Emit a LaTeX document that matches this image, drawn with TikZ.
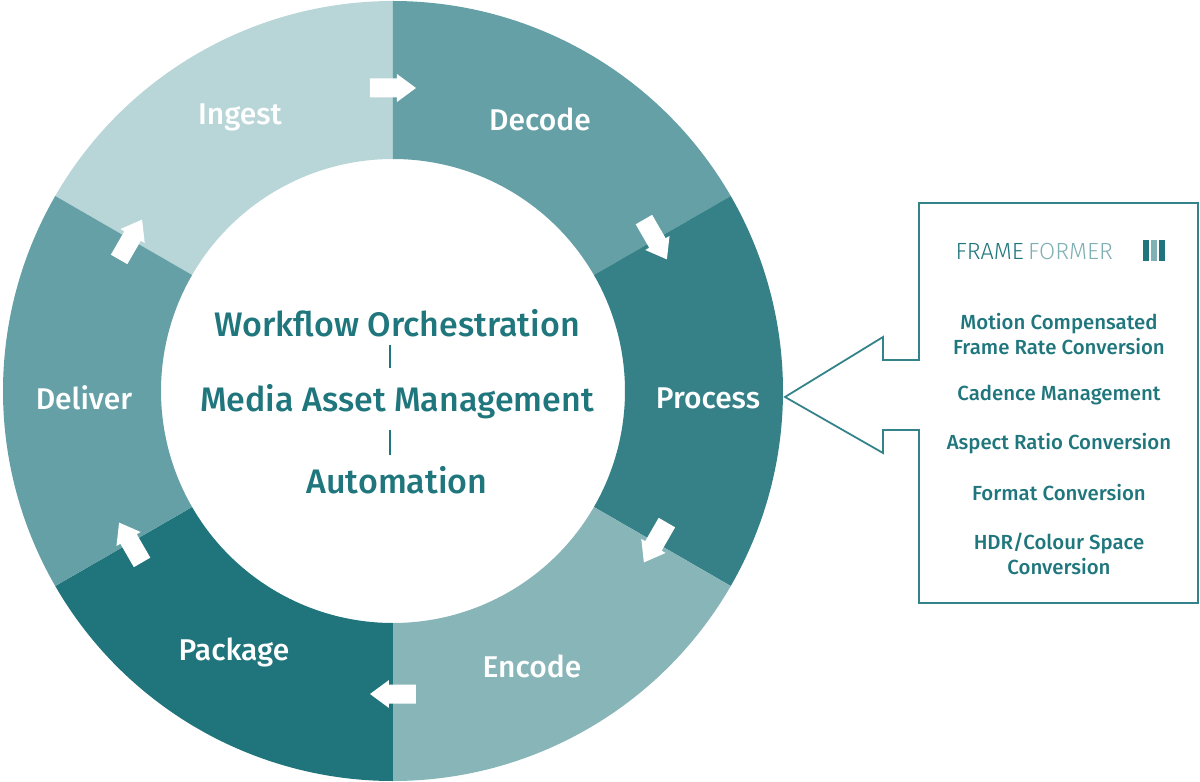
\documentclass[tikz,border=0pt]{standalone}
\usepackage{fontspec}
\setmainfont{Fira Sans}
\newfontfamily\med{Fira Sans Medium}
\newfontfamily\lite{Fira Sans Light}
\definecolor{cIng}{HTML}{B8D5D8}
\definecolor{cDec}{HTML}{64A0A5}
\definecolor{cPro}{HTML}{358187}
\definecolor{cEnc}{HTML}{88B5B8}
\definecolor{cPkg}{HTML}{1F757B}
\definecolor{cTxt}{HTML}{1F767C}
\definecolor{cLine}{HTML}{35838A}
\definecolor{cLogoL}{HTML}{7FB0B4}
\begin{document}
\begin{tikzpicture}[x=1pt,y=1pt,
  lbl/.style={text=white,font=\med\fontsize{30}{34}\selectfont},
  ctr/.style={text=cTxt,font=\med\fontsize{34}{38}\selectfont},
  cl/.style={text=cTxt,font=\med\fontsize{20.4}{25}\selectfont,align=center}]
\useasboundingbox (-393,-391) rectangle (807,391);
\def\Ro{390}\def\Ri{232}
\foreach \a/\b/\c in {90/150/cIng,30/90/cDec,-30/30/cPro,-90/-30/cEnc,-150/-90/cPkg,150/210/cDec}{
  \fill[\c] (\a:\Ri) -- (\a:\Ro) arc[start angle=\a,end angle=\b,radius=\Ro] -- (\b:\Ri) arc[start angle=\b,end angle=\a,radius=\Ri] -- cycle;
}
\foreach \t in {90,30,-30,-90,-150,150}{
  \fill[white,shift={(\t:303)},rotate=\t-90] (-23,-9.5) -- (4,-9.5) -- (4,-14) -- (23,0) -- (4,14) -- (4,9.5) -- (-23,9.5) -- cycle;
}
\node[lbl] (ing) at (-153,274) {Ingest};
\node[lbl] (dec) at (147,272) {Decode};
\node[lbl] (pro) at (315,-7) {Process};
\node[lbl] (enc) at (139,-275) {Encode};
\node[lbl] (pkg) at (-159,-261) {Package};
\node[lbl] (del) at (-309,-7) {Deliver};
\node[ctr] (wo) at (4,68) {Workflow Orchestration};
\node[ctr] (mam) at (4,-11) {Media Asset Management};
\node[ctr] (aut) at (4,-89) {Automation};
\draw[cTxt,line width=1.3pt] (-3,46) -- (-3,23);
\draw[cTxt,line width=1.3pt] (-3,-39) -- (-3,-64);
\draw[cLine,line width=1.8pt,line join=miter] (526,188) -- (805,188) -- (805,-212) -- (526,-212) -- (526,-39) -- (490,-39) -- (490,-62) -- (392,-6) -- (490,54) -- (490,31) -- (526,31) -- cycle;
\node[font=\lite\fontsize{23.4}{26}\selectfont,anchor=east,text=cTxt,inner xsep=2pt] (fr) at (633,140) {FRAME};
\node[font=\lite\fontsize{23.4}{26}\selectfont,anchor=west,text=cLogoL,inner xsep=2pt] (fo) at (633,140) {FORMER};
\fill[cPkg] (750,151) rectangle (756,130);
\fill[cLogoL] (758,151) rectangle (764,130);
\fill[cPkg] (766,151) rectangle (772,130);
\node[cl] (m1) at (666,57) {Motion Compensated\\Frame Rate Conversion};
\node[cl] (m2) at (666,-4) {Cadence Management};
\node[cl] (m3) at (666,-53) {Aspect Ratio Conversion};
\node[cl] (m4) at (666,-102) {Format Conversion};
\node[cl] (m5) at (666,-163) {HDR/Colour Space\\Conversion};
\end{tikzpicture}
\end{document}
